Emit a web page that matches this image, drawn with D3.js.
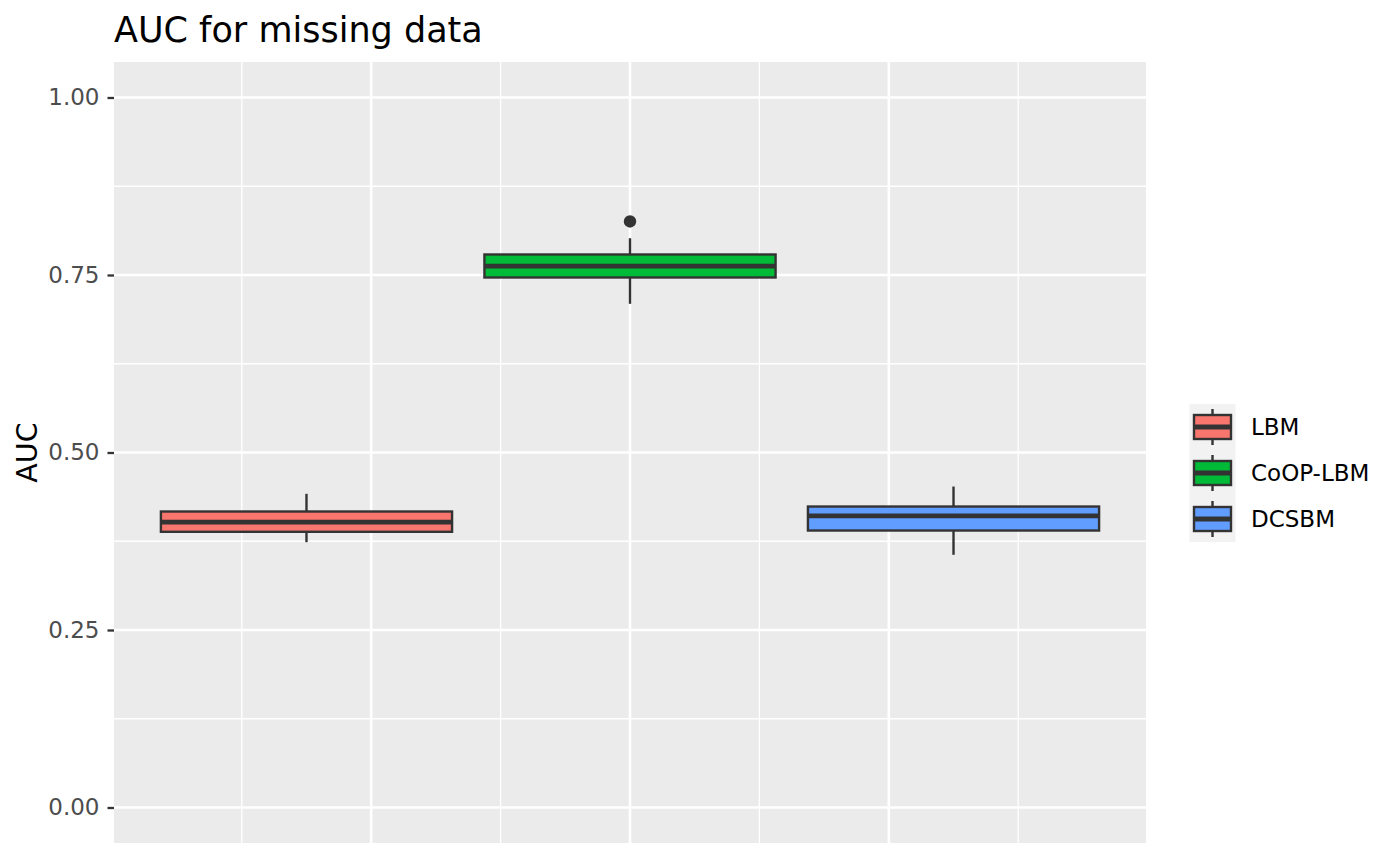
<!DOCTYPE html>
<html>
<head>
<meta charset="utf-8">
<script src="https://cdn.jsdelivr.net/npm/d3@7"></script>
<style>
  html, body { margin: 0; padding: 0; background: #ffffff; }
  svg { display: block; font-family: "DejaVu Sans", sans-serif; }
</style>
</head>
<body>
<svg id="chart" width="1400" height="865"></svg>
<script>
// ---- data ----
const groups   = ["LBM", "CoOP-LBM", "DCSBM"];
const fills    = ["#F8766D", "#00BA38", "#619CFF"];
const whiskLo  = [0.3737, 0.7094, 0.3559];
const q1       = [0.3883, 0.7465, 0.3901];
const medians  = [0.4018, 0.7624, 0.4108];
const q3       = [0.4169, 0.7789, 0.4239];
const whiskHi  = [0.4418, 0.8018, 0.4521];
const outliers = [[], [0.8254], []];
const yTicks      = [0, 0.25, 0.5, 0.75, 1];
const yTickLabels = ["0.00", "0.25", "0.50", "0.75", "1.00"];
const yMinor      = [0.125, 0.375, 0.625, 0.875];
const xMajor      = [-0.2, 0, 0.2];
const xMinor      = [-0.3, -0.1, 0.1, 0.3];
const titleText   = "AUC for missing data";
const yTitle      = "AUC";

// ---- layout ----
const panel = { left: 114, right: 1146, top: 62, bottom: 843 };
const dodgeWidth = 0.75;            // total dodge width in x units
const n = groups.length;
const slot = dodgeWidth / n;
const boxW = slot * 0.9;
const span = dodgeWidth - slot * 0.1;
const xExt = span / 2 * 1.1;

const x = d3.scaleLinear().domain([-xExt, xExt]).range([panel.left, panel.right]);
const y = d3.scaleLinear().domain([-0.05, 1.05]).range([panel.bottom, panel.top]);

const svg = d3.select("#chart");

// panel background
svg.append("rect")
  .attr("x", panel.left).attr("y", panel.top)
  .attr("width", panel.right - panel.left).attr("height", panel.bottom - panel.top)
  .attr("fill", "#EBEBEB");

const grid = svg.append("g");
// minor grid
grid.selectAll(".ym").data(yMinor).join("line")
  .attr("x1", panel.left).attr("x2", panel.right)
  .attr("y1", d => y(d)).attr("y2", d => y(d))
  .attr("stroke", "#fff").attr("stroke-width", 1.3);
grid.selectAll(".xm").data(xMinor).join("line")
  .attr("y1", panel.top).attr("y2", panel.bottom)
  .attr("x1", d => x(d)).attr("x2", d => x(d))
  .attr("stroke", "#fff").attr("stroke-width", 1.3);
// major grid
grid.selectAll(".yM").data(yTicks).join("line")
  .attr("x1", panel.left).attr("x2", panel.right)
  .attr("y1", d => y(d)).attr("y2", d => y(d))
  .attr("stroke", "#fff").attr("stroke-width", 2.6);
grid.selectAll(".xM").data(xMajor).join("line")
  .attr("y1", panel.top).attr("y2", panel.bottom)
  .attr("x1", d => x(d)).attr("x2", d => x(d))
  .attr("stroke", "#fff").attr("stroke-width", 2.6);

// y axis
const yAxis = d3.axisLeft(y).tickValues(yTicks)
  .tickFormat((d, i) => yTickLabels[i]).tickSize(6.5).tickPadding(8);
const ya = svg.append("g").attr("transform", `translate(${panel.left},0)`).call(yAxis);
ya.select(".domain").remove();
ya.selectAll(".tick line").attr("stroke", "#333333").attr("stroke-width", 2.3);
ya.selectAll(".tick text").attr("fill", "#4D4D4D")
  .style("font-size", "23px").style("font-family", "DejaVu Sans, sans-serif");

// boxes
const boxes = svg.append("g");
const sw = 2.4;
groups.forEach((g, i) => {
  const cx = (i - (n - 1) / 2) * slot;
  const gg = boxes.append("g");
  const col = "#333333";
  gg.append("line").attr("x1", x(cx)).attr("x2", x(cx))
    .attr("y1", y(whiskHi[i])).attr("y2", y(q3[i]))
    .attr("stroke", col).attr("stroke-width", sw);
  gg.append("line").attr("x1", x(cx)).attr("x2", x(cx))
    .attr("y1", y(q1[i])).attr("y2", y(whiskLo[i]))
    .attr("stroke", col).attr("stroke-width", sw);
  gg.append("rect")
    .attr("x", x(cx - boxW / 2)).attr("width", x(cx + boxW / 2) - x(cx - boxW / 2))
    .attr("y", y(q3[i])).attr("height", y(q1[i]) - y(q3[i]))
    .attr("fill", fills[i]).attr("stroke", col).attr("stroke-width", sw);
  gg.append("line")
    .attr("x1", x(cx - boxW / 2)).attr("x2", x(cx + boxW / 2))
    .attr("y1", y(medians[i])).attr("y2", y(medians[i]))
    .attr("stroke", col).attr("stroke-width", sw * 2);
  gg.selectAll("circle").data(outliers[i]).join("circle")
    .attr("cx", x(cx)).attr("cy", d => y(d)).attr("r", 6.2).attr("fill", col);
});

// title
svg.append("text").attr("x", panel.left).attr("y", 41.5)
  .attr("fill", "#000").style("font-size", "35px").text(titleText);

// y title
svg.append("text")
  .attr("transform", `translate(36.5,${(panel.top + panel.bottom) / 2}) rotate(-90)`)
  .attr("text-anchor", "middle").attr("fill", "#000")
  .style("font-size", "28.5px").text(yTitle);

// legend
const keySize = 46;
const legX = 1189.5, legY = 404;
const leg = svg.append("g");
groups.forEach((g, i) => {
  const ky = legY + i * keySize;
  const k = leg.append("g");
  k.append("rect").attr("x", legX).attr("y", ky).attr("width", keySize).attr("height", keySize)
    .attr("fill", "#F2F2F2");
  const kx = legX + keySize / 2;
  k.append("line").attr("x1", kx).attr("x2", kx).attr("y1", ky + 5).attr("y2", ky + keySize - 5)
    .attr("stroke", "#333").attr("stroke-width", sw);
  k.append("rect").attr("x", legX + 4.5).attr("y", ky + 11).attr("width", keySize - 9).attr("height", keySize - 22)
    .attr("fill", fills[i]).attr("stroke", "#333").attr("stroke-width", sw);
  k.append("line").attr("x1", legX + 4.5).attr("x2", legX + keySize - 4.5)
    .attr("y1", ky + keySize / 2).attr("y2", ky + keySize / 2)
    .attr("stroke", "#333").attr("stroke-width", sw * 2);
  k.append("text").attr("x", legX + keySize + 15.5).attr("y", ky + keySize / 2 + 8.3)
    .attr("fill", "#000").style("font-size", "23px").text(g);
});
</script>
</body>
</html>
